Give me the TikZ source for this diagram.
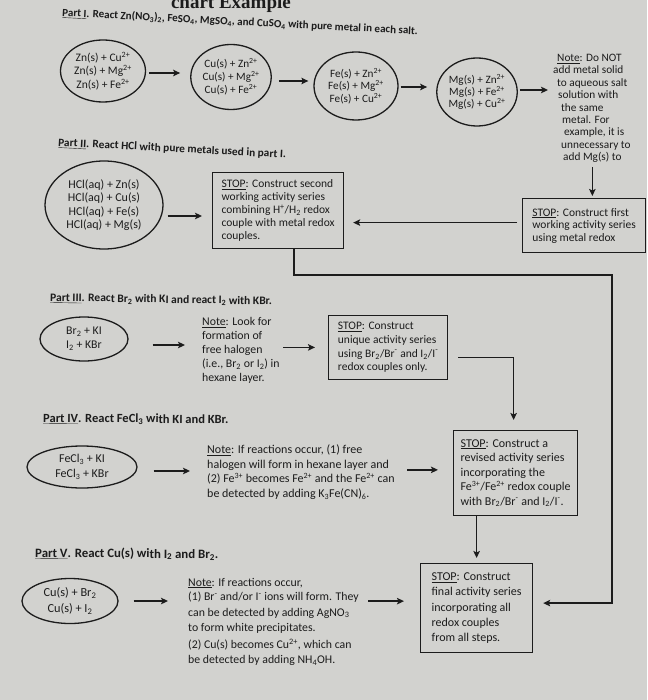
\documentclass[tikz,border=0pt]{standalone}
\usepackage{fontspec}
\setmainfont{Carlito}
\newfontfamily\titlefont{Liberation Serif}
\usetikzlibrary{shapes.geometric,arrows.meta,calc}
\definecolor{paper}{RGB}{210,210,207}
\definecolor{ink}{RGB}{28,28,28}
\newcommand\supx[1]{\textsuperscript{#1}}
\newcommand\subx[1]{\textsubscript{#1}}
\newcommand\fs[2]{\fontsize{#1}{#2}\selectfont}
\begin{document}
\begin{tikzpicture}[x=1pt,y=-1pt,
  oval/.style={ellipse,draw=ink,line width=1.3pt,inner sep=0pt,align=center,text=ink},
  stopbox/.style={draw=ink,line width=1.2pt,inner sep=0pt,align=left,text=ink,anchor=north west},
  txt/.style={inner sep=0pt,text=ink,anchor=base west},
  head/.style={inner sep=0pt,text=ink,anchor=base west},
  arr/.style={draw=ink,line width=1.3pt,-{Stealth[length=7pt,width=6.5pt,inset=1.5pt]}}
]
\path[use as bounding box,fill=paper] (0,0) rectangle (647,700);

% title and headings
\node[anchor=base east,inner sep=0pt,text=ink,font=\titlefont\bfseries\fs{19}{19}] (title) at (291,9) {chart Example};
\node[head,font=\bfseries\fs{11}{13},rotate=-3] (h1) at (62,16) {\underline{Part I}. React Zn(NO\subx{3})\subx{2}, FeSO\subx{4}, MgSO\subx{4}, and CuSO\subx{4} with pure metal in each salt.};
\node[head,font=\bfseries\fs{11.3}{13},rotate=-3] (h2) at (58,146) {\underline{Part II}. React HCl with pure metals used in part I.};
\node[head,font=\bfseries\fs{11.5}{13},rotate=-1] (h3) at (50,301) {\underline{Part III}. React Br\subx{2} with KI and react I\subx{2} with KBr.};
\node[head,font=\bfseries\fs{12.5}{14},rotate=-0.5] (h4) at (43,422) {\underline{Part IV}. React FeCl\subx{3} with KI and KBr.};
\node[head,font=\bfseries\fs{12.8}{14},rotate=-0.5] (h5) at (35,557) {\underline{Part V}. React Cu(s) with I\subx{2} and Br\subx{2}.};

% Part I ellipses
\node[oval,font=\fs{11.5}{13.5},minimum width=85pt,minimum height=62pt] (e1) at (103,71) {Zn(s) + Cu\supx{2+}\\Zn(s) + Mg\supx{2+}\\Zn(s) + Fe\supx{2+}};
\node[oval,font=\fs{11.2}{13},minimum width=80pt,minimum height=65pt] (e2) at (231,77) {Cu(s) + Zn\supx{2+}\\Cu(s) + Mg\supx{2+}\\Cu(s) + Fe\supx{2+}};
\node[oval,font=\fs{11.2}{12.5},minimum width=84pt,minimum height=68pt] (e3) at (356,86) {Fe(s) + Zn\supx{2+}\\Fe(s) + Mg\supx{2+}\\Fe(s) + Cu\supx{2+}};
\node[oval,font=\fs{11.2}{12},minimum width=80pt,minimum height=68pt] (e4) at (477,92) {Mg(s) + Zn\supx{2+}\\Mg(s) + Fe\supx{2+}\\Mg(s) + Cu\supx{2+}};

% Part I note
\node[txt,font=\fs{11.3}{13}] (n1-1) at (557,61.5) {\underline{Note}: Do NOT};
\node[txt,font=\fs{11.3}{13}] (n1-2) at (553,73.9) {add metal solid};
\node[txt,font=\fs{11.3}{13}] (n1-3) at (557,86.3) {to aqueous salt};
\node[txt,font=\fs{11.3}{13}] (n1-4) at (558,98.7) {solution with};
\node[txt,font=\fs{11.3}{13}] (n1-5) at (561,111.1) {the same};
\node[txt,font=\fs{11.3}{13}] (n1-6) at (562,123.5) {metal. For};
\node[txt,font=\fs{11.3}{13}] (n1-7) at (564,135.9) {example, it is};
\node[txt,font=\fs{11.3}{13}] (n1-8) at (561,148.3) {unnecessary to};
\node[txt,font=\fs{11.3}{13}] (n1-9) at (563,160.7) {add Mg(s) to};

% Part II
\node[oval,font=\fs{12}{13.3},minimum width=118pt,minimum height=88pt] (e5) at (104,205) {HCl(aq) + Zn(s)\\HCl(aq) + Cu(s)\\HCl(aq) + Fe(s)\\HCl(aq) + Mg(s)};
\node[stopbox,font=\fs{11.5}{13},minimum width=131pt,minimum height=76pt] (s2) at (212,172) {\underline{STOP}: Construct second\\working activity series\\combining H\supx{+}/H\subx{2} redox\\couple with metal redox\\couples.};
\node[stopbox,font=\fs{11.5}{12.5},minimum width=123pt,minimum height=54pt] (s1) at (522,198) {\underline{STOP}: Construct first\\working activity series\\using metal redox};

% Part III
\node[oval,font=\fs{11.8}{14},minimum width=88pt,minimum height=44pt] (e6) at (84,339) {Br\subx{2} + KI\\I\subx{2} + KBr};
\node[txt,font=\fs{11.8}{14}] (n3-1) at (202,325.5) {\underline{Note}: Look for};
\node[txt,font=\fs{11.8}{14}] (n3-2) at (202,339.5) {formation of};
\node[txt,font=\fs{11.8}{14}] (n3-3) at (202,353.5) {free halogen};
\node[txt,font=\fs{11.8}{14}] (n3-4) at (202,367.5) {(i.e., Br\subx{2} or I\subx{2}) in};
\node[txt,font=\fs{11.8}{14}] (n3-5) at (202,381.5) {hexane layer.};
\node[stopbox,font=\fs{11.5}{13.7},minimum width=119pt,minimum height=64pt] (s3) at (328,315) {\underline{STOP}: Construct\\unique activity series\\using Br\subx{2}/Br\supx{-} and I\subx{2}/I\supx{-}\\redox couples only.};

% Part IV
\node[oval,font=\fs{12}{15},minimum width=110pt,minimum height=42pt] (e7) at (82,467) {FeCl\subx{3} + KI\\FeCl\subx{3} + KBr};
\node[txt,font=\fs{12}{14}] (n4-1) at (207,453.5) {\underline{Note}: If reactions occur, (1) free};
\node[txt,font=\fs{12}{14}] (n4-2) at (207,468) {halogen will form in hexane layer and};
\node[txt,font=\fs{12}{14}] (n4-3) at (207,482.5) {(2) Fe\supx{3+} becomes Fe\supx{2+} and the Fe\supx{2+} can};
\node[txt,font=\fs{12}{14}] (n4-4) at (207,497.5) {be detected by adding K\subx{3}Fe(CN)\subx{6}.};
\node[stopbox,font=\fs{12}{14.5},minimum width=124pt,minimum height=85pt] (s4) at (453,430) {\underline{STOP}: Construct a\\revised activity series\\incorporating the\\Fe\supx{3+}/Fe\supx{2+} redox couple\\with Br\subx{2}/Br\supx{-} and I\subx{2}/I\supx{-}.};

% Part V
\node[oval,font=\fs{12.3}{16.5},minimum width=96pt,minimum height=45pt] (e8) at (70,601) {Cu(s) + Br\subx{2}\\Cu(s) + I\subx{2}};
\node[txt,font=\fs{11.8}{14}] (n5-1) at (188,586) {\underline{Note}: If reactions occur,};
\node[txt,font=\fs{11.8}{14}] (n5-2) at (188,600.5) {(1) Br\supx{-} and/or I\supx{-} ions will form. They};
\node[txt,font=\fs{11.8}{14}] (n5-3) at (188,616) {can be detected by adding AgNO\subx{3}};
\node[txt,font=\fs{11.8}{14}] (n5-4) at (188,631.5) {to form white precipitates.};
\node[txt,font=\fs{11.8}{14}] (n5-5) at (188,648.5) {(2) Cu(s) becomes Cu\supx{2+}, which can};
\node[txt,font=\fs{11.8}{14}] (n5-6) at (188,663.5) {be detected by adding NH\subx{4}OH.};
\node[stopbox,font=\fs{12}{15.2},minimum width=112pt,minimum height=89pt] (s5) at (420,563) {\underline{STOP}: Construct\\final activity series\\incorporating all\\redox couples\\from all steps.};

% connectors
\draw[arr] ($(e1.east)+(3,2)$) -- ($(e1.east -| e2.west)+(-10,2)$);
\draw[arr] ($(e2.east)+(7,4)$) -- ($(e2.east -| e3.west)+(-5,4)$);
\draw[arr] ($(e3.east)+(2,1)$) -- ($(e3.east -| e4.west)+(-9,1)$);
\draw[arr] ($(e4.east)+(2,-2)$) -- ($(e4.east -| n1-3.west)+(-9,-2)$);
\draw[arr] ($(n1-9.south)+(0,4)$) -- ($(n1-9.south |- s1.north)+(0,-2)$);
\draw[arr] ($(s1.west)+(-5,-3)$) -- ($(s1.west -| s2.east)+(9,-3)$);
\draw[arr] ($(e5.east)+(4,11)$) -- ($(e5.east -| s2.west)+(-10,11)$);
\draw[arr] ($(e6.east)+(24,6)$) -- ($(e6.east -| n3-1.west)+(-17,6)$);
\draw[arr] ($(n3-3.east -| s3.west)+(-45,-3)$) -- ($(n3-3.east -| s3.west)+(-13,-3)$);
\draw[arr] ($(s3.east)+(10,10)$) -| ($(s4.north)+(-2,-10)$);
\draw[arr] ($(e7.east)+(16,4)$) -- ($(e7.east -| n4-1.west)+(-17,4)$);
\draw[arr] ($(n4-2.east -| s4.west)+(-46,5)$) -- ($(n4-2.east -| s4.west)+(-15,5)$);
\draw[arr] (s4.south -| s5.north) -- ($(s5.north)+(0,-5)$);
\draw[arr] ($(e8.east)+(15,0)$) -- ($(e8.east -| n5-1.west)+(-20,0)$);
\draw[arr] ($(n5-2.east -| s5.west)+(-52,4)$) -- ($(n5-2.east -| s5.west)+(-16,4)$);
\coordinate (c1) at (612,275);
\draw[arr] ($(s2.south)+(16,0)$) |- (c1) |- ($(s5.east)+(10,-5)$);
\end{tikzpicture}
\end{document}
